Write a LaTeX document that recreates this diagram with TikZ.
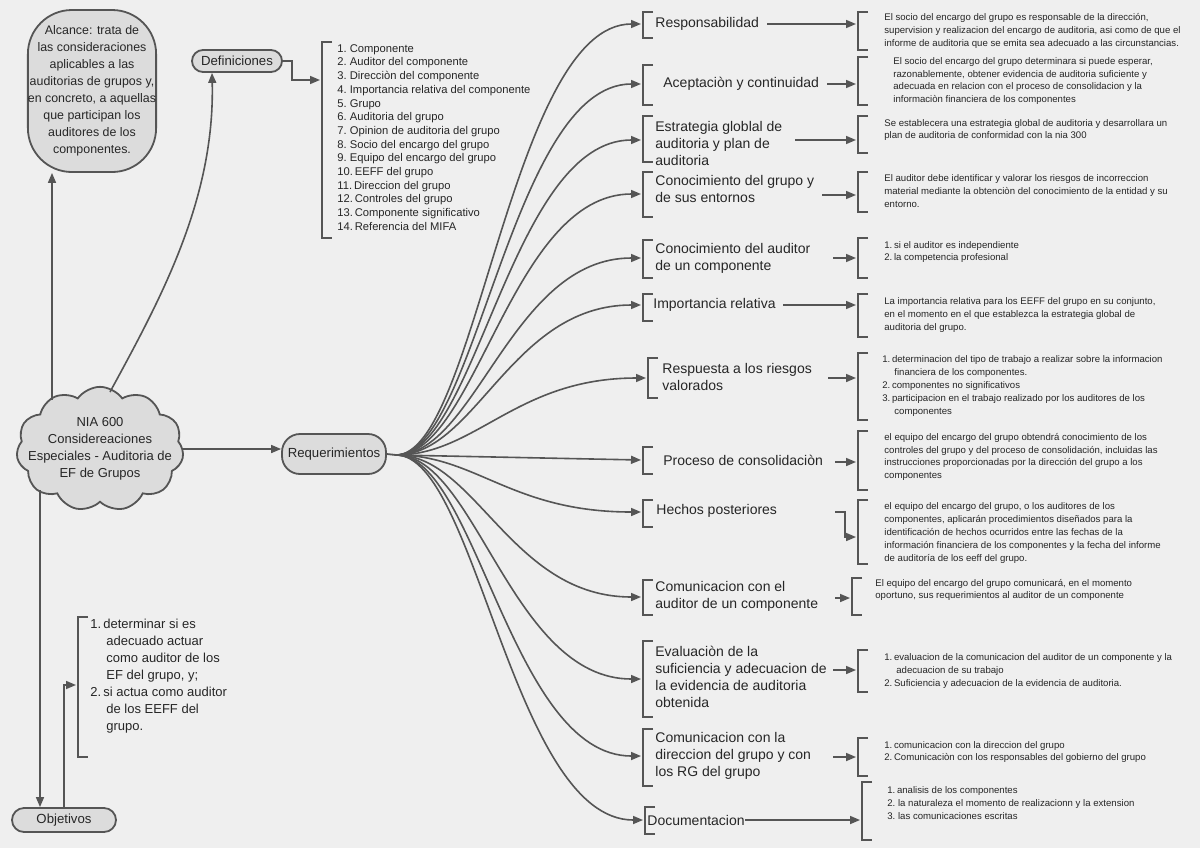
\documentclass[tikz,border=0pt]{standalone}
\usepackage{fontspec}
\setmainfont{Liberation Sans}
\usetikzlibrary{arrows.meta,shapes.symbols}
\definecolor{ln}{HTML}{555555}
\definecolor{tx}{HTML}{262626}
\definecolor{fl}{HTML}{DCDCDC}
\definecolor{bg}{HTML}{EFEFEF}
\tikzset{
  arr/.style={draw=ln,line width=0.8pt,-{Triangle[length=5pt,width=4pt]}},
  br/.style={draw=ln,line width=0.9pt},
  mainlbl/.style={anchor=west,align=left,text=tx,font=\fontsize{7}{8.5}\selectfont,inner sep=0pt},
  small/.style={anchor=west,align=left,text=tx,font=\fontsize{4.8}{6.4}\selectfont,inner sep=0pt},
  pill/.style={draw=ln,fill=fl,line width=0.9pt,text=tx,font=\fontsize{6.6}{8}\selectfont,inner sep=0pt},
}
\newcommand\lbr[3]{\draw[br] (#1+10,#2) -- (#1,#2) -- (#1,#3) -- (#1+10,#3);}
\begin{document}
\begin{tikzpicture}[x=0.5pt,y=-0.5pt]
\fill[bg] (0,0) rectangle (1200,848);
\useasboundingbox (0,0) rectangle (1200,848);
% main nodes
\node[pill,rounded corners=22pt,minimum width=62.5pt,minimum height=81pt,align=center,font=\fontsize{6.2}{8.5}\selectfont] (alc) at (92,91)
 {Alcance: trata de\\las consideraciones\\aplicables a las\\auditorias de grupos y,\\en concreto, a aquellas\\que participan los\\auditores de los\\componentes.};
\node[pill,rounded corners=5.5pt,minimum width=45pt,minimum height=11pt] (def) at (237,61) {Definiciones};
\node[cloud,cloud puffs=11,cloud puff arc=110,aspect=1.5,draw=ln,fill=fl,line width=0.9pt,text=tx,align=center,
  font=\fontsize{6.5}{8.5}\selectfont,minimum width=10pt,minimum height=10pt,inner sep=-8pt] (nia) at (100,449)
 {NIA 600\\Considereaciones\\Especiales - Auditoria de\\EF de Grupos};
\node[pill,rounded corners=9pt,minimum width=52pt,minimum height=20pt] (req) at (334,454) {Requerimientos};
\node[pill,rounded corners=6pt,minimum width=52pt,minimum height=12pt] (obj) at (64,820) {Objetivos};
% left connectors
\coordinate (nA) at (52,400); \coordinate (nO) at (40,490);
\draw[arr] (nA) -- (alc.south -| nA);
\draw[arr] (nO) -- (obj.north -| nO);
\coordinate (nD) at (110,392);
\draw[arr] (nD) .. controls (160,300) and (215,200) .. (def.south -| 212,0);
\draw[arr] (nia.east |- 0,449) -- (req.west |- 0,449);
% definitions list
\coordinate (defk) at (292,61);
\coordinate (defb) at (320,80);
\draw[arr] (def.east) -- (defk) -- (defk |- defb) -- (defb);
\lbr{322}{42}{238}
\node[anchor=north west,align=left,text=tx,font=\fontsize{5.6}{6.85}\selectfont,inner sep=0pt] (dl) at (337,44)
{1.\ Componente\\2.\ Auditor del componente\\3.\ Direcciòn del componente\\4.\ Importancia relativa del componente\\5.\ Grupo\\6.\ Auditoria del grupo\\7.\ Opinion de auditoria del grupo\\8.\ Socio del encargo del grupo\\9.\ Equipo del encargo del grupo\\10.\,EEFF del grupo\\11.\,Direccion del grupo\\12.\,Controles del grupo\\13.\,Componente significativo\\14.\,Referencia del MIFA};
% objetivos
\coordinate (ok) at (64,685); \coordinate (ob) at (76,685);
\draw[arr] (obj.north -| ok) -- (ok) -- (ob);
\lbr{78}{617}{757}
\node[anchor=north west,align=left,text=tx,font=\fontsize{6.5}{8.5}\selectfont,inner sep=0pt] (ol) at (90,619)
{1.\,determinar si es\\\hspace*{8pt}adecuado actuar\\\hspace*{8pt}como auditor de los\\\hspace*{8pt}EF del grupo, y;\\2.\,si actua como auditor\\\hspace*{8pt}de los EEFF del\\\hspace*{8pt}grupo.};
% origin of fan
\coordinate (rq) at (396,455);
% 1
\lbr{643}{12}{38}\coordinate (b1) at (641,24);
\node[mainlbl] (l1) at (655,24) {Responsabilidad};
\lbr{858}{12}{50}\coordinate (r1) at (856,24);
\node[small] (t1) at (884,31) {El socio del encargo del grupo es responsable de la dirección,\\supervision y realizacion del encargo de auditoria, asi como de que el\\informe de auditoria que se emita sea adecuado a las circunstancias.};
\draw[arr] (l1.east)++(8,0) -- (r1);
% 2
\lbr{643}{65}{105}\coordinate (b2) at (641,84);
\node[mainlbl] (l2) at (663,84) {Aceptaciòn y continuidad};
\lbr{858}{57}{105}\coordinate (r2) at (856,84);
\node[small] (t2) at (893,81) {El socio del encargo del grupo determinara si puede esperar,\\razonablemente, obtener evidencia de auditoria suficiente y\\adecuada en relacion con el proceso de consolidacion y la\\informaciòn financiera de los componentes};
\draw[arr] (l2.east)++(8,0) -- (r2);
% 3
\lbr{643}{116}{162}\coordinate (b3) at (641,140);
\node[mainlbl] (l3) at (655,143) {Estrategia globlal de\\auditoria y plan de\\auditoria};
\lbr{858}{116}{153}\coordinate (r3) at (856,140);
\node[small] (t3) at (884,130) {Se establecera una estrategia global de auditoria y desarrollara un\\plan de auditoria de conformidad con la nia 300};
\draw[arr] (795,140) -- (r3);
% 4
\lbr{643}{172}{217}\coordinate (b4) at (641,194);
\node[mainlbl] (l4) at (655,189) {Conocimiento del grupo y\\de sus entornos};
\lbr{858}{172}{212}\coordinate (r4) at (856,195);
\node[small] (t4) at (884,191) {El auditor debe identificar y valorar los riesgos de incorreccion\\material mediante la obtenciòn del conocimiento de la entidad y su\\entorno.};
\draw[arr] (822,195) -- (r4);
% 5
\lbr{643}{240}{278}\coordinate (b5) at (641,258);
\node[mainlbl] (l5) at (655,258) {Conocimiento del auditor\\de un componente};
\lbr{858}{238}{278}\coordinate (r5) at (856,258);
\node[small] (t5) at (884,252) {1.\,si el auditor es independiente\\2.\,la competencia profesional};
\draw[arr] (833,258) -- (r5);
% 6
\lbr{643}{294}{321}\coordinate (b6) at (641,305);
\node[mainlbl] (l6) at (653,305) {Importancia relativa};
\lbr{858}{294}{337}\coordinate (r6) at (856,305);
\node[small] (t6) at (884,315) {La importancia relativa para los EEFF del grupo en su conjunto,\\en el momento en el que establezca la estrategia global de\\auditoria del grupo.};
\draw[arr] (783,305) -- (r6);
% 7
\lbr{648}{358}{398}\coordinate (b7) at (646,378);
\node[mainlbl] (l7) at (662,377) {Respuesta a los riesgos\\valorados};
\lbr{858}{353}{420}\coordinate (r7) at (856,378);
\node[small] (t7) at (882,386) {1.\,determinacion del tipo de trabajo a realizar sobre la informacion\\\hspace*{6pt}financiera de los componentes.\\2.\,componentes no significativos\\3.\,participacion en el trabajo realizado por los auditores de los\\\hspace*{6pt}componentes};
\draw[arr] (828,378) -- (r7);
% 8
\lbr{643}{447}{474}\coordinate (b8) at (641,460);
\node[mainlbl] (l8) at (663,460) {Proceso de consolidaciòn};
\lbr{858}{431}{490}\coordinate (r8) at (856,462);
\node[small] (t8) at (884,457) {el equipo del encargo del grupo obtendrá conocimiento de los\\controles del grupo y del proceso de consolidación, incluidas las\\instrucciones proporcionadas por la dirección del grupo a los\\componentes};
\draw[arr] (835,462) -- (r8);
% 9
\lbr{643}{500}{527}\coordinate (b9) at (641,512);
\node[mainlbl] (l9) at (656,511) {Hechos posteriores};
\lbr{858}{500}{564}\coordinate (r9) at (856,537);
\node[small] (t9) at (884,533) {el equipo del encargo del grupo, o los auditores de los\\componentes, aplicarán procedimientos diseñados para la\\identificación de hechos ocurridos entre las fechas de la\\información financiera de los componentes y la fecha del informe\\de auditoría de los eeff del grupo.};
\coordinate (k9) at (845,512);
\draw[arr] (835,512) -- (k9) -- (k9 |- r9) -- (r9);
% 10
\lbr{643}{580}{615}\coordinate (b10) at (641,597);
\node[mainlbl] (l10) at (655,596) {Comunicacion con el\\auditor de un componente};
\lbr{852}{578}{615}\coordinate (r10) at (850,598);
\node[small] (t10) at (875,590) {El equipo del encargo del grupo comunicará, en el momento\\oportuno, sus requerimientos al auditor de un componente};
\draw[arr] (835,598) -- (r10);
% 11
\lbr{643}{641}{717}\coordinate (b11) at (641,679);
\node[mainlbl] (l11) at (655,677) {Evaluaciòn de la\\suficiencia y adecuacion de\\la evidencia de auditoria\\obtenida};
\lbr{858}{650}{692}\coordinate (r11) at (856,670);
\node[small] (t11) at (884,671) {1.\,evaluacion de la comunicacion del auditor de un componente y la\\\hspace*{6pt}adecuacion de su trabajo\\2.\,Suficiencia y adecuacion de la evidencia de auditoria.};
\draw[arr] (833,670) -- (r11);
% 12
\lbr{643}{729}{786}\coordinate (b12) at (641,756);
\node[mainlbl] (l12) at (655,756) {Comunicacion con la\\direccion del grupo y con\\los RG del grupo};
\lbr{858}{738}{776}\coordinate (r12) at (856,757);
\node[small] (t12) at (884,752) {1.\,comunicacion con la direccion del grupo\\2.\,Comunicaciòn con los responsables del gobierno del grupo};
\draw[arr] (833,757) -- (r12);
% 13
\lbr{645}{807}{834}\coordinate (b13) at (643,820);
\node[mainlbl] (l13) at (647,820) {Documentacion};
\lbr{862}{782}{840}\coordinate (r13) at (860,820);
\node[small] (t13) at (887,803) {1.\,analisis de los componentes\\2.\ la naturaleza el momento de realizacionn y la extension\\3.\ las comunicaciones escritas};
\draw[arr] (l13.east) -- (r13);
% fan
\draw[ln,line width=0.9pt] (req.east) -- (rq);
\foreach \b in {b1,b2,b3,b4,b5,b6,b7,b9,b10,b11,b12,b13}{
  \draw[arr] (rq) .. controls +(80,0) and +(-130,0) .. (\b);
}
\draw[arr] (rq) -- (b8);
\end{tikzpicture}
\end{document}
